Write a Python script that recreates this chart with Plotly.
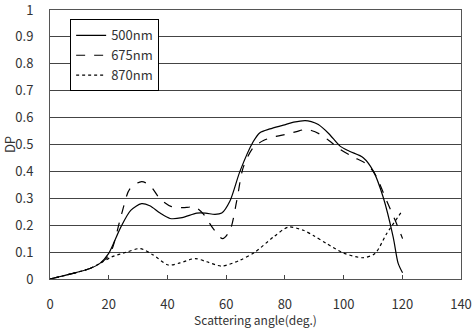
import plotly.graph_objects as go

x_500 = [0, 6.8, 13.6, 17, 20, 24, 27.5, 31.2, 34, 37.5, 40.9, 45, 50, 53, 56.2, 58.5, 61.3, 64.7, 69.2, 71.5, 74.9, 79.5, 83, 86.9, 89, 91.4, 95, 98.8, 102, 106.7, 110.1, 113.5, 116.9, 118.6, 120.1]
y_500 = [0, 0.018, 0.039, 0.058, 0.095, 0.19, 0.255, 0.28, 0.272, 0.245, 0.225, 0.228, 0.245, 0.245, 0.24, 0.245, 0.29, 0.40, 0.51, 0.544, 0.558, 0.572, 0.583, 0.589, 0.585, 0.574, 0.54, 0.494, 0.475, 0.451, 0.402, 0.304, 0.156, 0.058, 0.023]

x_675 = [0, 6.8, 13.6, 17, 19, 21, 24.4, 27.2, 31.2, 34.1, 37.5, 41.4, 45, 49.4, 52.2, 55.6, 58.8, 61.3, 63.6, 65.8, 69.2, 72.7, 77, 81.2, 84, 86.9, 89, 92, 95, 98.8, 103, 107.9, 110.7, 114.7, 117.5, 120.1]
y_675 = [0, 0.018, 0.039, 0.058, 0.075, 0.107, 0.242, 0.335, 0.362, 0.347, 0.298, 0.269, 0.265, 0.267, 0.242, 0.187, 0.150, 0.181, 0.29, 0.414, 0.488, 0.515, 0.53, 0.54, 0.548, 0.556, 0.552, 0.538, 0.515, 0.482, 0.455, 0.427, 0.39, 0.29, 0.22, 0.15]

x_870 = [0, 6.8, 13.6, 17, 21, 26.1, 30.7, 35.2, 40.3, 44.3, 49.4, 53.4, 58.5, 64.7, 69.8, 76.1, 81.2, 86.3, 90, 94.2, 99.9, 106.7, 110.7, 114.7, 120.1]
y_870 = [0, 0.018, 0.039, 0.058, 0.082, 0.10, 0.113, 0.089, 0.052, 0.06, 0.076, 0.064, 0.048, 0.07, 0.10, 0.156, 0.193, 0.181, 0.16, 0.132, 0.097, 0.079, 0.095, 0.169, 0.255]

series = [("500nm", x_500, y_500, "solid"),
          ("675nm", x_675, y_675, "dash"),
          ("870nm", x_870, y_870, "dot")]

x_ticks = [0, 20, 40, 60, 80, 100, 120, 140]
y_ticks = [0, 0.1, 0.2, 0.3, 0.4, 0.5, 0.6, 0.7, 0.8, 0.9, 1]

fig = go.Figure()
for name, xs, ys, dash in series:
    fig.add_trace(go.Scatter(x=xs, y=ys, name=name, mode="lines",
                             line=dict(color="black", width=1.2, dash=dash,
                                       shape="spline", smoothing=0.8)))

font_family = "Noto Sans CJK JP, DejaVu Sans, sans-serif"
fig.update_layout(
    width=474, height=328,
    margin=dict(l=50, r=13, t=10, b=49),
    paper_bgcolor="white", plot_bgcolor="white",
    font=dict(family=font_family, size=13, color="#333"),
    showlegend=True,
    legend=dict(x=0.049, y=0.965, xanchor="left", yanchor="top",
                bgcolor="white", bordercolor="black", borderwidth=1,
                font=dict(size=13, color="#333"), itemwidth=30,
                tracegroupgap=0),
    xaxis=dict(range=[0, 140], tickvals=x_ticks, ticks="inside", ticklen=4,
               tickcolor="#444", showline=True, linecolor="#555", mirror=True,
               showgrid=False, zeroline=False, ticklabelstandoff=13,
               ticklabeloverflow="allow", automargin=False,
               title=dict(text="Scattering angle(deg.)", standoff=4,
                          font=dict(size=12))),
    yaxis=dict(range=[0, 1], tickvals=y_ticks, ticks="", showline=True,
               linecolor="#555", mirror=True, showgrid=True,
               gridcolor="#444", gridwidth=1, zeroline=False,
               ticklabelstandoff=13, ticklabeloverflow="allow", automargin=False,
               title=dict(text="DP", standoff=4, font=dict(size=13))),
)

fig.write_html("out.html")
